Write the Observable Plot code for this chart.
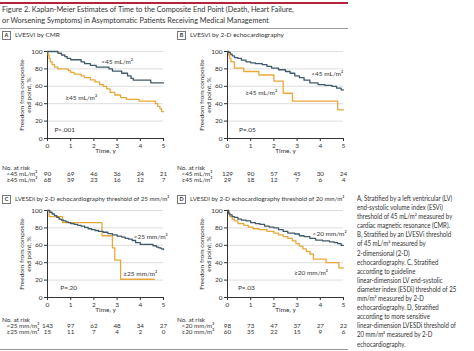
<!DOCTYPE html>
<html><head><meta charset="utf-8">
<script src="https://cdn.jsdelivr.net/npm/d3@7"></script>
<script src="https://cdn.jsdelivr.net/npm/@observablehq/plot@0.6"></script>
<style>
body{margin:0;background:#fff;font-family:Lato,"Open Sans",sans-serif;color:#333;}
#page{position:relative;width:474px;height:351px;overflow:hidden;}
.hline{position:absolute;left:0;width:348px;}
.title{position:absolute;left:2px;top:5px;font-size:7.3px;line-height:10.5px;white-space:nowrap;color:#333;}
.hdr{position:absolute;font-size:6.5px;white-space:nowrap;color:#333;line-height:8px;}
.box{display:inline-block;width:7px;height:7px;border:0.8px solid #777;font-size:5.5px;line-height:7px;text-align:center;font-weight:bold;margin-right:4px;vertical-align:middle;}
.note{position:absolute;left:357px;top:194px;font-size:6.9px;line-height:9.1px;white-space:nowrap;color:#333;transform:scaleX(0.88);transform-origin:0 0;}
</style></head><body><div id="page"></div>
<script>
// ---------- data ----------
const years = [0, 1, 2, 3, 4, 5];
const yTicks = [0, 20, 40, 60, 80, 100];

// Panel A: LVESVi by CMR
const tA_lo = [0, 0.45, 0.6, 0.75, 0.85, 1.0, 1.45, 1.6, 1.85, 2.1, 2.65, 2.8, 3.2, 3.45, 3.6, 3.7, 4.45, 5.0];
const sA_lo = [100, 98, 96, 94, 92, 90.5, 88, 86, 84, 82, 80, 77.5, 75, 72, 69, 67, 64, 64];
const tA_hi = [0, 0.03, 0.07, 0.12, 0.2, 0.3, 0.45, 0.9, 1.0, 1.15, 1.45, 1.6, 1.85, 2.05, 2.25, 2.4, 2.55, 2.7, 2.9, 3.15, 3.4, 3.95, 4.65, 4.75, 4.85, 4.92, 5.0];
const sA_hi = [100, 96, 92, 88, 85, 82, 80, 78, 76, 74, 72, 70, 67.5, 65, 62, 60, 57, 53, 50, 47, 45, 43, 40, 37, 34, 31, 31];
const riskA_lo = [90, 69, 46, 36, 24, 21];
const riskA_hi = [68, 39, 23, 16, 12, 7];

// Panel B: LVESVi by 2-D echocardiography
const tB_lo = [0, 0.05, 0.12, 0.2, 0.3, 0.45, 0.6, 0.8, 1.0, 1.2, 1.5, 1.7, 1.9, 2.2, 2.5, 2.7, 2.9, 3.1, 3.3, 3.55, 3.9, 4.2, 4.5, 4.7, 4.9, 5.0];
const sB_lo = [100, 99, 97, 95, 93, 92, 90, 88, 87, 86, 85, 83, 81, 79, 77, 75, 72, 70, 67, 64, 62, 61, 60, 58, 56, 56];
const tB_hi = [0, 0.05, 0.1, 0.15, 0.3, 0.7, 1.35, 2.0, 2.4, 2.8, 4.75, 5.0];
const sB_hi = [100, 96, 92, 88, 81, 77, 73, 66, 52, 43, 33, 33];
const riskB_lo = [129, 90, 57, 45, 30, 24];
const riskB_hi = [29, 18, 12, 7, 6, 4];

// Panel C: LVESDi threshold 25 mm/m2
const tC_lo = [0, 0.1, 0.2, 0.3, 0.4, 0.5, 0.6, 0.7, 0.8, 0.9, 1.0, 1.15, 1.3, 1.45, 1.6, 1.75, 1.9, 2.05, 2.2, 2.4, 2.6, 2.8, 3.0, 3.2, 3.35, 3.5, 3.65, 3.8, 4.0, 4.4, 4.55, 4.7, 4.8, 4.9, 5.0];
const sC_lo = [100, 98, 96, 94, 92, 90, 89, 88, 87, 86, 85, 84, 83, 82, 80.5, 79, 78, 77, 76, 75, 73.5, 72, 70.5, 69.5, 68, 67, 65.5, 63, 61, 61, 59.5, 58, 57, 56, 55];
const tC_hi = [0, 0.07, 0.65, 2.35, 2.8, 2.9, 3.15, 4.6];
const sC_hi = [100, 93, 86, 71, 57, 43, 21, 21];
const riskC_lo = [143, 97, 62, 48, 34, 27];
const riskC_hi = [15, 11, 7, 4, 2, 0];

// Panel D: LVESDi threshold 20 mm/m2
const tD_lo = [0, 0.05, 0.1, 0.2, 0.3, 0.45, 0.6, 0.8, 1.0, 1.2, 1.4, 1.6, 1.8, 2.0, 2.2, 2.4, 2.6, 2.9, 3.1, 3.3, 3.55, 3.8, 4.1, 4.4, 4.6, 4.75, 4.9, 5.0];
const sD_lo = [100, 97, 95, 93, 92, 90, 89, 88, 86, 85, 84, 82, 81, 80, 78, 76, 74, 73, 71, 70, 68, 66, 65, 64, 63, 62, 60, 60];
const tD_hi = [0, 0.05, 0.1, 0.2, 0.3, 0.45, 0.7, 0.9, 1.1, 1.35, 1.7, 2.0, 2.2, 2.4, 2.6, 2.8, 2.95, 3.1, 3.25, 3.4, 3.55, 3.7, 4.25, 4.8, 5.0];
const sD_hi = [100, 96, 93, 90, 88, 85, 83, 81, 79, 78, 76, 74, 72, 70, 68, 65, 62, 59, 56, 53, 50, 44, 40, 34, 34];
const riskD_lo = [98, 73, 47, 37, 27, 22];
const riskD_hi = [60, 35, 22, 15, 9, 6];

const darkColor = "#3e5968";
const orangeColor = "#e8a838";

// ---------- layout ----------
const page = document.getElementById("page");
function addHTML(html){ page.insertAdjacentHTML("beforeend", html); }

addHTML(`<div class="hline" style="top:2px;height:1.5px;background:#b4243a"></div>`);
addHTML(`<div class="title">Figure 2. Kaplan-Meier Estimates of Time to the Composite End Point (Death, Heart Failure,<br>or Worsening Symptoms) in Asymptomatic Patients Receiving Medical Management</div>`);
addHTML(`<div class="hline" style="top:28px;height:1px;background:#999"></div>`);
addHTML(`<div class="hline" style="top:348.5px;height:1px;background:#999"></div>`);

function header(x, y, letter, text, fs){
  addHTML(`<div class="hdr" style="left:${x}px;top:${y}px;font-size:${fs}px"><span class="box">${letter}</span>${text}</div>`);
}
header(2, 31, "A", "LVESVi by CMR", 6.5);
header(177, 31, "B", "LVESVi by 2-D echocardiography", 6.5);
header(2, 195, "C", "LVESDi by 2-D echocardiography threshold of 25 mm/m²", 6.2);
header(177, 195, "D", "LVESDi by 2-D echocardiography threshold of 20 mm/m²", 6.2);

function toRows(t, s){ return t.map((d, i) => ({t: d, s: s[i]})); }

function panel(o){
  const lo = toRows(o.tLo, o.sLo), hi = toRows(o.tHi, o.sHi);
  const risk = years.map((y, i) => ({t: y, lo: o.riskLo[i], hi: o.riskHi[i]}));
  const ml = o.ml, mr = 175 - ml - o.pw;
  const svg = Plot.plot({
    width: 175, height: 142,
    marginLeft: ml, marginRight: mr, marginTop: 7, marginBottom: 48,
    x: {domain: [0, 5]},
    y: {domain: [0, 100]},
    style: {fontFamily: "Lato", fontSize: "6.5px", color: "#333", background: "transparent", overflow: "visible"},
    marks: [
      Plot.gridY(yTicks.filter(d => d > 0), {stroke: "#ddd", strokeOpacity: 1}),
      Plot.axisY(yTicks, {tickSize: 3, tickPadding: 2, label: null}),
      Plot.axisX(years, {tickSize: 3, tickPadding: 2, label: null, tickFormat: d => d}),
      Plot.ruleX([0], {y1: 0, y2: 100, stroke: "#333"}),
      Plot.ruleY([0], {x1: 0, x2: 5, stroke: "#333"}),
      Plot.line(hi, {x: "t", y: "s", curve: "step-after", stroke: orangeColor, strokeWidth: 1.3}),
      Plot.line(lo, {x: "t", y: "s", curve: "step-after", stroke: darkColor, strokeWidth: 1.3}),
      Plot.text([o.loLabel], {x: o.loPos[0], y: o.loPos[1], text: d => d, fontSize: 6.5}),
      Plot.text([o.hiLabel], {x: o.hiPos[0], y: o.hiPos[1], text: d => d, fontSize: 6.5}),
      Plot.text([o.p], {x: o.pPos[0], y: o.pPos[1], text: d => d, fontSize: 6.5, textAnchor: "start"}),
      Plot.text(["Freedom from composite\nend point, %"], {frameAnchor: "left", textAnchor: "middle", rotate: -90, dx: -22, fontSize: 6.5, lineHeight: 1.05}),
      Plot.text(["Time, y"], {frameAnchor: "bottom", dy: 14, fontSize: 6.5}),
      Plot.text(["No. at risk"], {frameAnchor: "bottom-left", dx: -(ml - o.nx), dy: o.r0, textAnchor: "start", fontSize: 6.3}),
      Plot.text([o.loLabel], {frameAnchor: "bottom-left", dx: -(ml - o.nx - 4.5), dy: o.r1, textAnchor: "start", fontSize: 6.3}),
      Plot.text([o.hiLabel], {frameAnchor: "bottom-left", dx: -(ml - o.nx - 4.5), dy: o.r2, textAnchor: "start", fontSize: 6.3}),
      Plot.text(risk, {x: "t", text: "lo", frameAnchor: "bottom", dy: o.r1, fontSize: 6.3}),
      Plot.text(risk, {x: "t", text: "hi", frameAnchor: "bottom", dy: o.r2, fontSize: 6.3})
    ]
  });
  svg.style.position = "absolute";
  svg.style.left = o.left + "px";
  svg.style.top = o.top + "px";
  page.appendChild(svg);
}

panel({left: 0, top: 44, ml: 47, pw: 116, nx: 1.5, r0: 31, r1: 37, r2: 43,
  tLo: tA_lo, sLo: sA_lo, tHi: tA_hi, sHi: sA_hi, riskLo: riskA_lo, riskHi: riskA_hi,
  loLabel: "<45 mL/m²", hiLabel: "≥45 mL/m²", loPos: [3.0, 88], hiPos: [1.45, 47], p: "P<.001", pPos: [0.3, 10]});
panel({left: 175, top: 44, ml: 52, pw: 116, nx: 1.5, r0: 31, r1: 37, r2: 43,
  tLo: tB_lo, sLo: sB_lo, tHi: tB_hi, sHi: sB_hi, riskLo: riskB_lo, riskHi: riskB_hi,
  loLabel: "<45 mL/m²", hiLabel: "≥45 mL/m²", loPos: [4.3, 74], hiPos: [1.45, 52], p: "P=.05", pPos: [0.5, 10]});
panel({left: 0, top: 203, ml: 47, pw: 116, nx: 1.5, r0: 24.5, r1: 30.5, r2: 36.5,
  tLo: tC_lo, sLo: sC_lo, tHi: tC_hi, sHi: sC_hi, riskLo: riskC_lo, riskHi: riskC_hi,
  loLabel: "<25 mm/m²", hiLabel: "≥25 mm/m²", loPos: [4.45, 70], hiPos: [4.0, 27.5], p: "P=.20", pPos: [0.55, 10.5]});
panel({left: 175, top: 203, ml: 52, pw: 116, nx: 1.5, r0: 24.5, r1: 30.5, r2: 36.5,
  tLo: tD_lo, sLo: sD_lo, tHi: tD_hi, sHi: sD_hi, riskLo: riskD_lo, riskHi: riskD_hi,
  loLabel: "<20 mm/m²", hiLabel: "≥20 mm/m²", loPos: [4.4, 73.5], hiPos: [3.6, 28], p: "P=.03", pPos: [0.45, 10.5]});

addHTML(`<div class="note">A, Stratified by a left ventricular (LV)<br>end-systolic volume index (ESVi)<br>threshold of 45 mL/m² measured by<br>cardiac magnetic resonance (CMR).<br>B, Stratified by an LVESVi threshold<br>of 45 mL/m² measured by<br>2-dimensional (2-D)<br>echocardiography. C, Stratified<br>according to guideline<br>linear-dimension LV end-systolic<br>diameter index (ESDi) threshold of 25<br>mm/m² measured by 2-D<br>echocardiography. D, Stratified<br>according to more sensitive<br>linear-dimension LVESDi threshold of<br>20 mm/m² measured by 2-D<br>echocardiography.</div>`);
</script>
</body></html>
